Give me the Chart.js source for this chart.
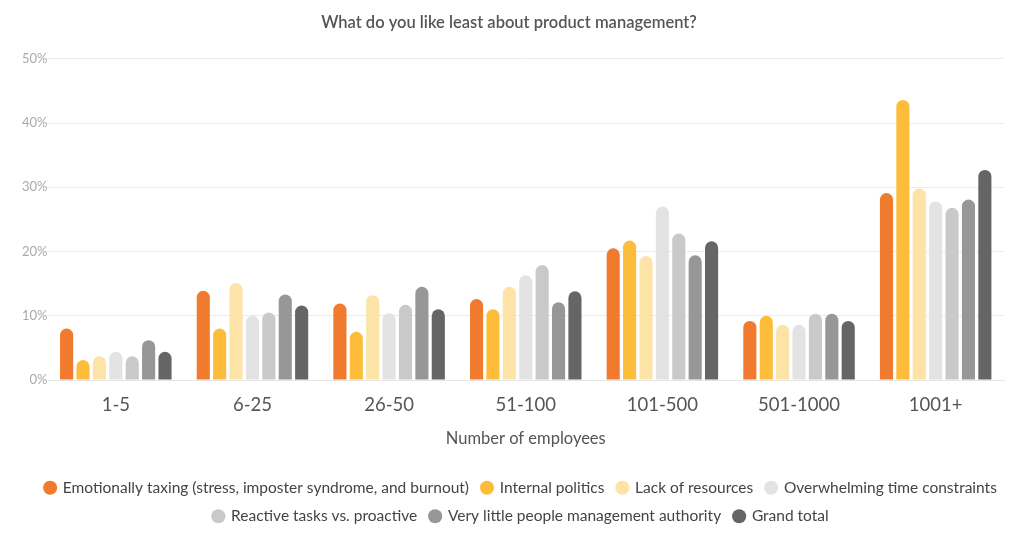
<!DOCTYPE html>
<html>
<head>
<meta charset="utf-8">
<script src="https://cdn.jsdelivr.net/npm/chart.js@4"></script>
<style>
html,body{margin:0;padding:0;background:#fff;}
#wrap{width:1024px;height:540px;position:relative;}
</style>
</head>
<body>
<div id="wrap"><canvas id="c"></canvas></div>
<script>
const categories = ["1-5","6-25","26-50","51-100","101-500","501-1000","1001+"];
const emotionallyTaxing = [8.0, 13.9, 11.9, 12.6, 20.5, 9.2, 29.1];
const internalPolitics = [3.1, 8.0, 7.5, 11.0, 21.7, 10.0, 43.6];
const lackOfResources = [3.7, 15.1, 13.2, 14.5, 19.3, 8.6, 29.8];
const timeConstraints = [4.4, 10.0, 10.4, 16.3, 27.0, 8.6, 27.8];
const reactiveTasks = [3.7, 10.5, 11.7, 17.9, 22.8, 10.3, 26.8];
const littleAuthority = [6.2, 13.3, 14.5, 12.1, 19.4, 10.3, 28.1];
const grandTotal = [4.4, 11.6, 11.0, 13.8, 21.6, 9.2, 32.7];
const seriesNames = ["Emotionally taxing (stress, imposter syndrome, and burnout)","Internal politics","Lack of resources","Overwhelming time constraints","Reactive tasks vs. proactive","Very little people management authority","Grand total"];
const seriesColors = ["#F07A2D","#FDBD3A","#FDE3A6","#E3E3E3","#C9C9C9","#979797","#666566"];
const yTicks = [0,10,20,30,40,50];

const allSeries = [emotionallyTaxing, internalPolitics, lackOfResources, timeConstraints, reactiveTasks, littleAuthority, grandTotal];
const FONT = "Lato, 'Open Sans', sans-serif";

// nudge the centred title / legend boxes to match the reference's centring
const centreNudge = {
  id: 'centreNudge',
  afterLayout(chart) {
    const shift = (box, dx) => { if (box) { box.left += dx; box.right += dx; } };
    shift(chart.legend, 8);
    shift(chart.titleBlock, -4);
  }
};

new Chart(document.getElementById('c'), {
  type: 'bar',
  data: {
    labels: categories,
    datasets: allSeries.map((d, i) => ({
      label: seriesNames[i],
      data: d,
      backgroundColor: seriesColors[i],
      borderRadius: 20,
      borderSkipped: 'start',
      categoryPercentage: 0.84,
      barPercentage: 0.8
    }))
  },
  plugins: [centreNudge],
  options: {
    responsive: true,
    maintainAspectRatio: false,
    animation: false,
    layout: {padding: {left: 22, right: 20, top: 9, bottom: 6}},
    plugins: {
      title: {
        display: true,
        text: "What do you like least about product management?",
        color: '#555',
        font: {family: FONT, size: 16.5, weight: '600'},
        padding: {top: 4, bottom: 26}
      },
      legend: {
        position: 'bottom',
        labels: {
          usePointStyle: true,
          pointStyle: 'circle',
          boxWidth: 10,
          boxHeight: 10,
          padding: 13,
          color: '#444',
          font: {family: FONT, size: 15.5}
        }
      },
      tooltip: {enabled: false}
    },
    scales: {
      x: {
        grid: {display: false},
        border: {display: true, color: '#e6e6e6'},
        ticks: {color: '#555', font: {family: FONT, size: 18.5}, padding: 6},
        title: {display: true, text: 'Number of employees', color: '#555', font: {family: FONT, size: 16.5}, padding: {top: 7, bottom: 18}}
      },
      y: {
        min: 0, max: 50,
        afterBuildTicks: (axis) => { axis.ticks = yTicks.map(v => ({value: v})); },
        grid: {color: '#ebebeb', drawTicks: false},
        border: {display: false},
        ticks: {color: '#aaa', font: {family: FONT, size: 13}, padding: 0, callback: v => v + '%'}
      }
    }
  }
});
</script>
</body>
</html>
